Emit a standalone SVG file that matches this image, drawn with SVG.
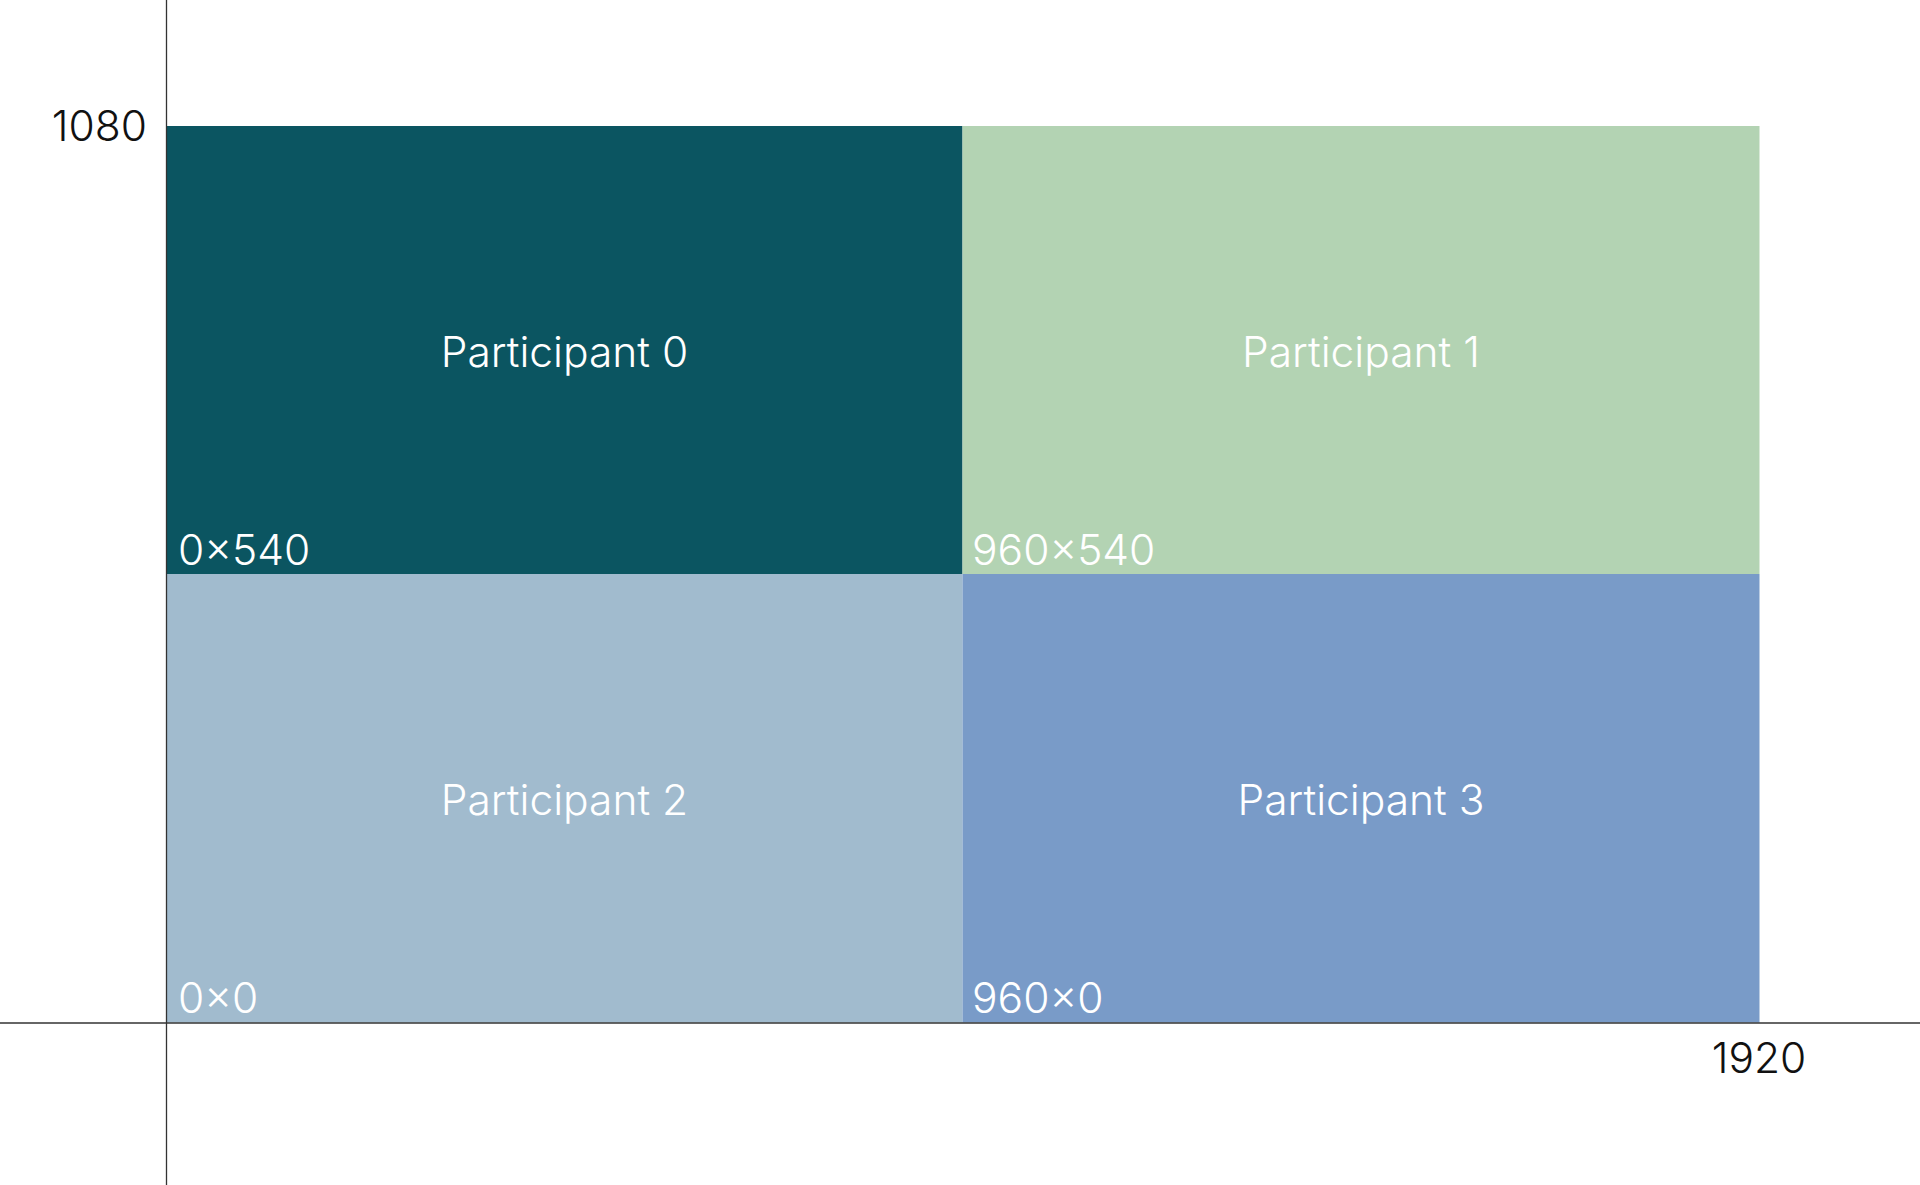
<svg xmlns="http://www.w3.org/2000/svg" width="1920" height="1185" viewBox="0 0 1920 1185">
<style>
.lbl{font-family:Inter,"Liberation Sans",sans-serif;font-size:42.5px;font-weight:350;fill:#ffffff}
.ctr{text-anchor:middle;dominant-baseline:central}
.ax{font-family:Inter,"Liberation Sans",sans-serif;font-size:42.5px;font-weight:350;fill:#111111}
.axis{stroke:#333333;stroke-width:1.3;fill:none}
</style>
<rect width="1920" height="1185" fill="#ffffff"/>
<g id="participant0">
<rect x="166.5" y="126" width="796" height="448" fill="#0B5561"/>
<text class="lbl ctr" x="564.5" y="351">Participant 0</text>
<text class="lbl" x="178" y="565">0×540</text>
</g>
<g id="participant1">
<rect x="962.5" y="126" width="797" height="448" fill="#B3D3B3"/>
<text class="lbl ctr" x="1361" y="351">Participant 1</text>
<text class="lbl" x="972" y="565">960×540</text>
</g>
<g id="participant2">
<rect x="166.5" y="574" width="796" height="448.5" fill="#A1BBCE"/>
<text class="lbl ctr" x="564.5" y="799">Participant 2</text>
<text class="lbl" x="178" y="1013">0×0</text>
</g>
<g id="participant3">
<rect x="962.5" y="574" width="797" height="448.5" fill="#799BC8"/>
<text class="lbl ctr" x="1361" y="799">Participant 3</text>
<text class="lbl" x="972" y="1013">960×0</text>
</g>
<g id="axes">
<line class="axis" x1="166.5" y1="0" x2="166.5" y2="1185"/>
<line class="axis" x1="0" y1="1023" x2="1920" y2="1023"/>
<text class="ax" x="147" y="141" text-anchor="end">1080</text>
<text class="ax" x="1759" y="1073" text-anchor="middle">1920</text>
</g>
</svg>
